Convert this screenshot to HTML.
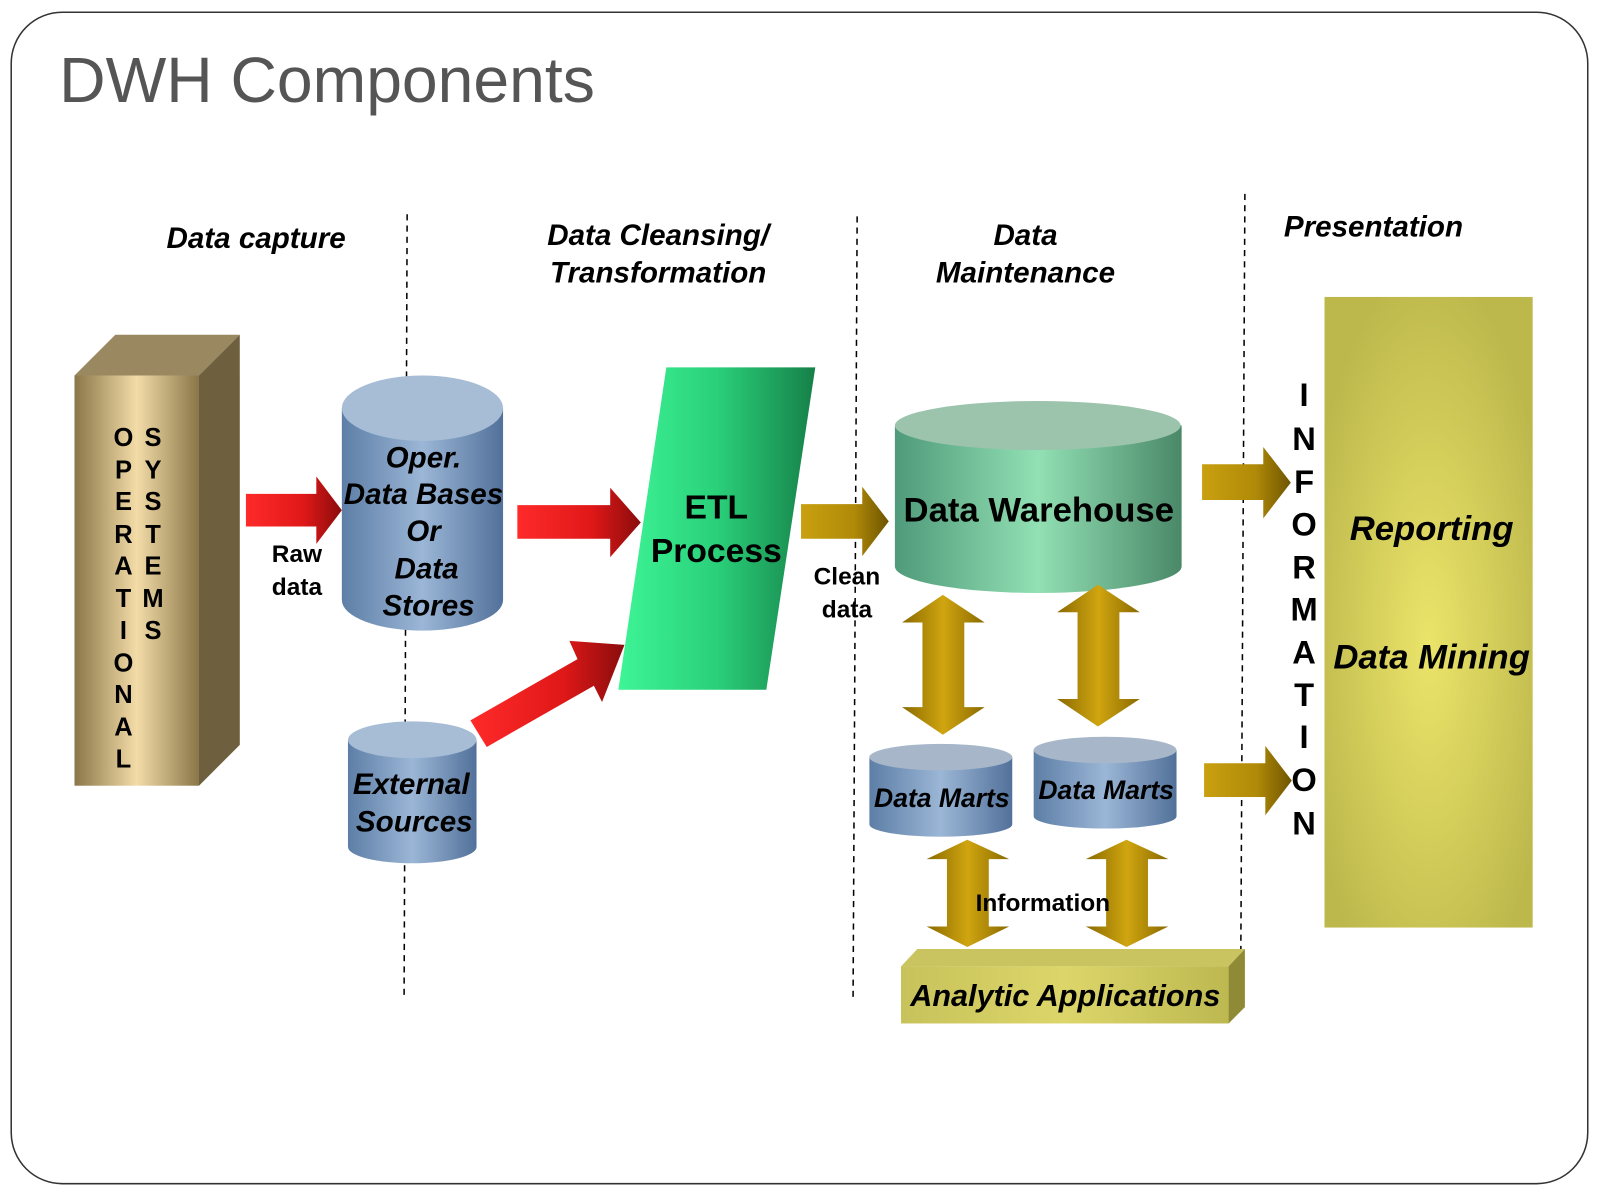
<!DOCTYPE html>
<html><head><meta charset="utf-8"><style>
html,body{margin:0;padding:0;background:#fff;}
svg{display:block;}
text{font-family:"Liberation Sans",Arial,sans-serif;font-weight:bold;fill:#000;}
.it{font-style:italic;}
</style></head><body>
<svg width="1600" height="1200" viewBox="0 0 1568 1176" preserveAspectRatio="none" xmlns="http://www.w3.org/2000/svg">
<defs>
<linearGradient id="box" x1="0" x2="1"><stop offset="0" stop-color="#8a7648"/><stop offset="0.5" stop-color="#f3dca8"/><stop offset="1" stop-color="#8a7648"/></linearGradient>
<linearGradient id="blue" x1="0" x2="1"><stop offset="0" stop-color="#5d7ea6"/><stop offset="0.5" stop-color="#9bb6d6"/><stop offset="1" stop-color="#52719a"/></linearGradient>
<linearGradient id="green" x1="0" x2="1"><stop offset="0" stop-color="#4f9a7a"/><stop offset="0.5" stop-color="#92e0b4"/><stop offset="1" stop-color="#4a8868"/></linearGradient>
<linearGradient id="etl" x1="0" x2="1"><stop offset="0" stop-color="#3ef596"/><stop offset="0.5" stop-color="#2ad07a"/><stop offset="1" stop-color="#168048"/></linearGradient>
<linearGradient id="red" x1="0" x2="1"><stop offset="0" stop-color="#ff2a2a"/><stop offset="0.6" stop-color="#e01818"/><stop offset="1" stop-color="#8a0c0c"/></linearGradient>
<linearGradient id="gold" x1="0" x2="1"><stop offset="0" stop-color="#c9a010"/><stop offset="0.6" stop-color="#b08a08"/><stop offset="1" stop-color="#6e5400"/></linearGradient>
<linearGradient id="goldv" x1="0" x2="1"><stop offset="0" stop-color="#8a6a00"/><stop offset="0.5" stop-color="#d0a510"/><stop offset="1" stop-color="#8a6a00"/></linearGradient>
<radialGradient id="yel" cx="0.5" cy="0.55" r="0.6"><stop offset="0" stop-color="#ebe46a"/><stop offset="1" stop-color="#bdb84c"/></radialGradient>
<linearGradient id="aa" x1="0" x2="1"><stop offset="0" stop-color="#c7c25a"/><stop offset="0.5" stop-color="#dcd66a"/><stop offset="1" stop-color="#bdb850"/></linearGradient>
</defs>
<rect x="11" y="12" width="1545" height="1148" rx="50" fill="#fff" stroke="#333" stroke-width="1.5"/>
<text x="58" y="100" style="font-weight:normal;fill:#555;font-size:63px">DWH Components</text>

<g stroke="#000" stroke-width="1.5" stroke-dasharray="6,5">
<line x1="399" y1="210" x2="396" y2="978"/>
<line x1="840" y1="212" x2="836" y2="980"/>
<line x1="1220" y1="190" x2="1216" y2="935"/>
</g>

<g font-size="29" text-anchor="middle">
<text class="it" x="251" y="243">Data capture</text>
<text class="it" x="645" y="240">Data Cleansing/</text>
<text class="it" x="645" y="277">Transformation</text>
<text class="it" x="1005" y="240">Data</text>
<text class="it" x="1005" y="277">Maintenance</text>
<text class="it" x="1346" y="232">Presentation</text>
</g>

<polygon points="73,368 113,328 235,328 195,368" fill="#9a8860"/>
<polygon points="195,368 235,328 235,730 195,770" fill="#6e5f3e"/>
<rect x="73" y="368" width="122" height="402" fill="url(#box)"/>
<g font-size="25" text-anchor="middle">
<text x="121" y="437">O</text><text x="121" y="469">P</text><text x="121" y="500">E</text><text x="121" y="532">R</text><text x="121" y="563">A</text><text x="121" y="595">T</text><text x="121" y="626">I</text><text x="121" y="658">O</text><text x="121" y="689">N</text><text x="121" y="721">A</text><text x="121" y="752">L</text>
<text x="150" y="437">S</text><text x="150" y="469">Y</text><text x="150" y="500">S</text><text x="150" y="532">T</text><text x="150" y="563">E</text><text x="150" y="595">M</text><text x="150" y="626">S</text>
</g>

<polygon points="241,484 310,484 310,467 335,500 310,533 310,516 241,516" fill="url(#red)"/>
<polygon points="507,495 598,495 598,478 628,512 598,546 598,528 507,528" fill="url(#red)"/>
<polygon points="461,706 566,646 558,628 612,632 590,688 582,672 477,732" fill="url(#red)"/>
<text x="291" y="551" font-size="24" text-anchor="middle">Raw</text>
<text x="291" y="583" font-size="24" text-anchor="middle">data</text>

<path d="M335,400 L335,588 A79,30 0 0 0 493,588 L493,400 Z" fill="url(#blue)"/>
<ellipse cx="414" cy="400" rx="79" ry="32" fill="#a7bdd6"/>
<g font-size="29" text-anchor="middle">
<text class="it" x="415" y="458">Oper.</text>
<text class="it" x="415" y="494">Data Bases</text>
<text class="it" x="415" y="530">Or</text>
<text class="it" x="418" y="567">Data</text>
<text class="it" x="420" y="603">Stores</text>
</g>

<path d="M341,725 L341,830 A63,16 0 0 0 467,830 L467,725 Z" fill="url(#blue)"/>
<ellipse cx="404" cy="725" rx="63" ry="18" fill="#a7bdd6"/>
<text class="it" x="403" y="778" font-size="29" text-anchor="middle">External</text>
<text class="it" x="406" y="815" font-size="29" text-anchor="middle">Sources</text>

<polygon points="653,360 799,360 751,676 606,676" fill="url(#etl)"/>
<text x="702" y="508" font-size="33" text-anchor="middle">ETL</text>
<text x="702" y="551" font-size="33" text-anchor="middle">Process</text>

<polygon points="785,494 845,494 845,477 871,511 845,545 845,528 785,528" fill="url(#gold)"/>
<text x="830" y="573" font-size="24" text-anchor="middle">Clean</text>
<text x="830" y="605" font-size="24" text-anchor="middle">data</text>

<path d="M877,417 L877,555 A140,26 0 0 0 1158,555 L1158,417 Z" fill="url(#green)"/>
<ellipse cx="1017" cy="417" rx="140" ry="24" fill="#9cc4ac"/>
<text x="1018" y="511" font-size="34" text-anchor="middle">Data Warehouse</text>

<g fill="url(#goldv)">
<polygon points="924,583 965,610 945,610 945,693 965,693 924,720 884,693 904,693 904,610 884,610"/>
<polygon points="1076,573 1117,600 1097,600 1097,685 1117,685 1076,712 1036,685 1056,685 1056,600 1036,600"/>
<polygon points="948,823 989,842 969,842 969,908 989,908 948,928 908,908 928,908 928,842 908,842"/>
<polygon points="1104,823 1145,842 1125,842 1125,908 1145,908 1104,928 1064,908 1084,908 1084,842 1064,842"/>
</g>

<path d="M852,742 L852,808 A70,12 0 0 0 992,808 L992,742 Z" fill="url(#blue)"/>
<ellipse cx="922" cy="742" rx="70" ry="13" fill="#a7b7c9"/>
<text class="it" x="923" y="791" font-size="26" text-anchor="middle">Data Marts</text>
<path d="M1013,735 L1013,800 A70,12 0 0 0 1153,800 L1153,735 Z" fill="url(#blue)"/>
<ellipse cx="1083" cy="735" rx="70" ry="13" fill="#a7b7c9"/>
<text class="it" x="1084" y="783" font-size="26" text-anchor="middle">Data Marts</text>

<text x="1022" y="893" font-size="24" text-anchor="middle">Information</text>

<polygon points="883,947 899,930 1220,930 1204,947" fill="#c9c460"/>
<polygon points="1204,947 1220,930 1220,987 1204,1003" fill="#8f8a36"/>
<rect x="883" y="947" width="321" height="56" fill="url(#aa)"/>
<text class="it" x="1044" y="986" font-size="30" text-anchor="middle">Analytic Applications</text>

<polygon points="1178,455 1238,455 1238,438 1265,473 1238,508 1238,490 1178,490" fill="url(#gold)"/>
<polygon points="1180,748 1240,748 1240,731 1266,765 1240,799 1240,781 1180,781" fill="url(#gold)"/>

<g font-size="32" text-anchor="middle">
<text x="1278" y="398">I</text><text x="1278" y="441">N</text><text x="1278" y="483">F</text><text x="1278" y="525">O</text><text x="1278" y="567">R</text><text x="1278" y="608">M</text><text x="1278" y="650">A</text><text x="1278" y="692">T</text><text x="1278" y="733">I</text><text x="1278" y="775">O</text><text x="1278" y="818">N</text>
</g>

<rect x="1298" y="291" width="204" height="618" fill="url(#yel)"/>
<text class="it" x="1403" y="529" font-size="34" text-anchor="middle">Reporting</text>
<text class="it" x="1403" y="655" font-size="34" text-anchor="middle">Data Mining</text>
</svg>
</body></html>
